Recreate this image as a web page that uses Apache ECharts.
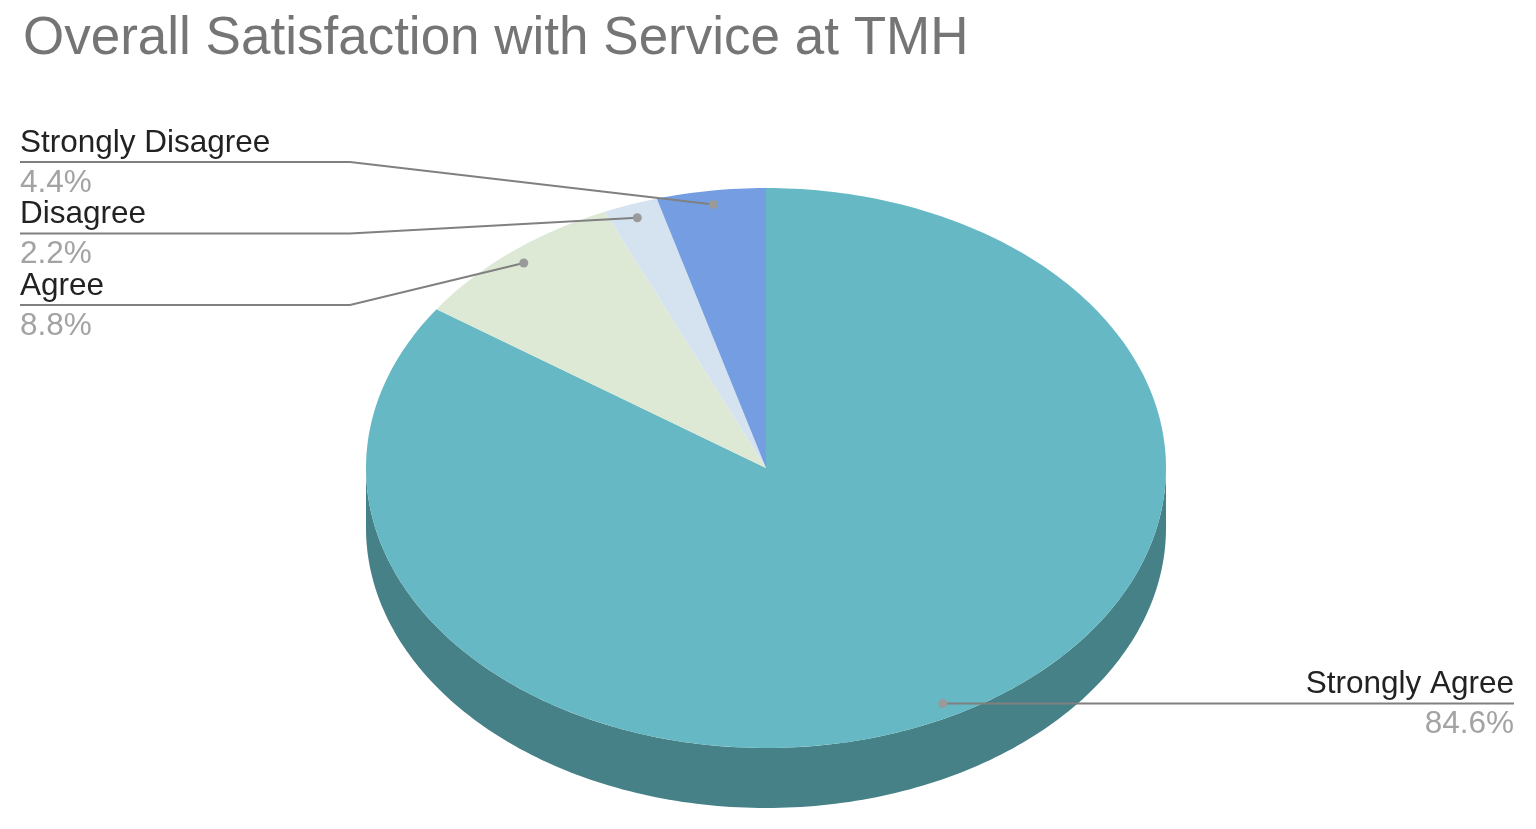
<!DOCTYPE html>
<html>
<head>
<meta charset="utf-8">
<script src="https://cdn.jsdelivr.net/npm/echarts@6/dist/echarts.min.js"></script>
<style>
html,body{margin:0;padding:0;background:#fff;}
#chart{width:1536px;height:829px;}
</style>
</head>
<body>
<div id="chart"></div>
<script>
const categories = ['Strongly Agree', 'Agree', 'Disagree', 'Strongly Disagree'];
const values = [84.6, 8.8, 2.2, 4.4];
const chartTitle = 'Overall Satisfaction with Service at TMH';

const topColors = ['#66b9c4', '#dde8d5', '#d4e3ef', '#749ee1'];
const sideColors = ['#468187', '#9aa295', '#94a0a8', '#516e9d'];

const FONT = '"Liberation Sans", Arial, sans-serif';
const CX = 766, CY = 468, RX = 400, RY = 280, DEPTH = 60;
const total = values.reduce((a, b) => a + b, 0);
const starts = [];
let acc = 0;
values.forEach(v => { starts.push(acc / total); acc += v; });

function pt(t, f, dy) {
  const a = 2 * Math.PI * t;
  return [CX + RX * f * Math.sin(a), CY - RY * f * Math.cos(a) + (dy || 0)];
}

// label rows for left-side labels
const mids = values.map((v, i) => starts[i] + v / total / 2);
const leftIdx = mids.map((m, i) => i).filter(i => pt(mids[i], 1)[0] < CX);
leftIdx.sort((a, b) => pt(mids[a], 1)[1] - pt(mids[b], 1)[1]);

function renderItem(params, api) {
  const i = params.dataIndex;
  const t0 = starts[i];
  const t1 = t0 + api.value(1) / total;
  const children = [];
  // side wall (front half: t in [0.25, 0.75])
  const s0 = Math.max(t0, 0.25), s1 = Math.min(t1, 0.75);
  if (s1 > s0) {
    const n = Math.max(2, Math.ceil((s1 - s0) * 360));
    const pts = [];
    for (let k = 0; k <= n; k++) pts.push(pt(s0 + (s1 - s0) * k / n, 1, 0));
    for (let k = n; k >= 0; k--) pts.push(pt(s0 + (s1 - s0) * k / n, 1, DEPTH));
    children.push({ type: 'polygon', z2: 1, shape: { points: pts }, style: { fill: sideColors[i] } });
  }
  // top face
  const n = Math.max(2, Math.ceil((t1 - t0) * 360));
  const tp = [[CX, CY]];
  for (let k = 0; k <= n; k++) tp.push(pt(t0 + (t1 - t0) * k / n, 1, 0));
  children.push({ type: 'polygon', z2: 10, shape: { points: tp }, style: { fill: topColors[i] } });

  // label
  const mid = (t0 + t1) / 2;
  const anchor = pt(mid, 0.95, 0);
  const pct = (api.value(1) / total * 100).toFixed(1) + '%';
  const name = categories[i];
  const nameStyle = { fontFamily: FONT, fontSize: 31.5, fill: '#222222' };
  const pctStyle = { fontFamily: FONT, fontSize: 31.5, fill: '#a3a3a3' };
  let lineY, textX, align, linePts;
  if (anchor[0] < CX) {
    const row = leftIdx.indexOf(i);
    lineY = 162 + row * 71.5;
    textX = 20; align = 'left';
    linePts = [[20, lineY], [350, lineY], anchor];
  } else {
    lineY = anchor[1];
    textX = 1514; align = 'right';
    linePts = [anchor, [1514, lineY]];
  }
  children.push({ type: 'polyline', z2: 20, shape: { points: linePts }, style: { stroke: '#808080', lineWidth: 2, fill: null } });
  children.push({ type: 'circle', z2: 21, shape: { cx: anchor[0], cy: anchor[1], r: 4.5 }, style: { fill: '#9a9a9a' } });
  children.push({ type: 'text', z2: 22, style: Object.assign({ text: name, x: textX, y: lineY - 19, align: align, verticalAlign: 'middle' }, nameStyle) });
  children.push({ type: 'text', z2: 22, style: Object.assign({ text: pct, x: textX, y: lineY + 21, align: align, verticalAlign: 'middle' }, pctStyle) });
  return { type: 'group', children: children };
}

const chart = echarts.init(document.getElementById('chart'));
chart.setOption({
  animation: false,
  title: {
    text: chartTitle,
    left: 18, top: 8,
    textStyle: { fontFamily: FONT, fontSize: 53, fontWeight: 'normal', color: '#757575' }
  },
  series: [{
    type: 'custom',
    coordinateSystem: 'none',
    renderItem: renderItem,
    data: categories.map((c, i) => [i, values[i]])
  }]
});
</script>
</body>
</html>
